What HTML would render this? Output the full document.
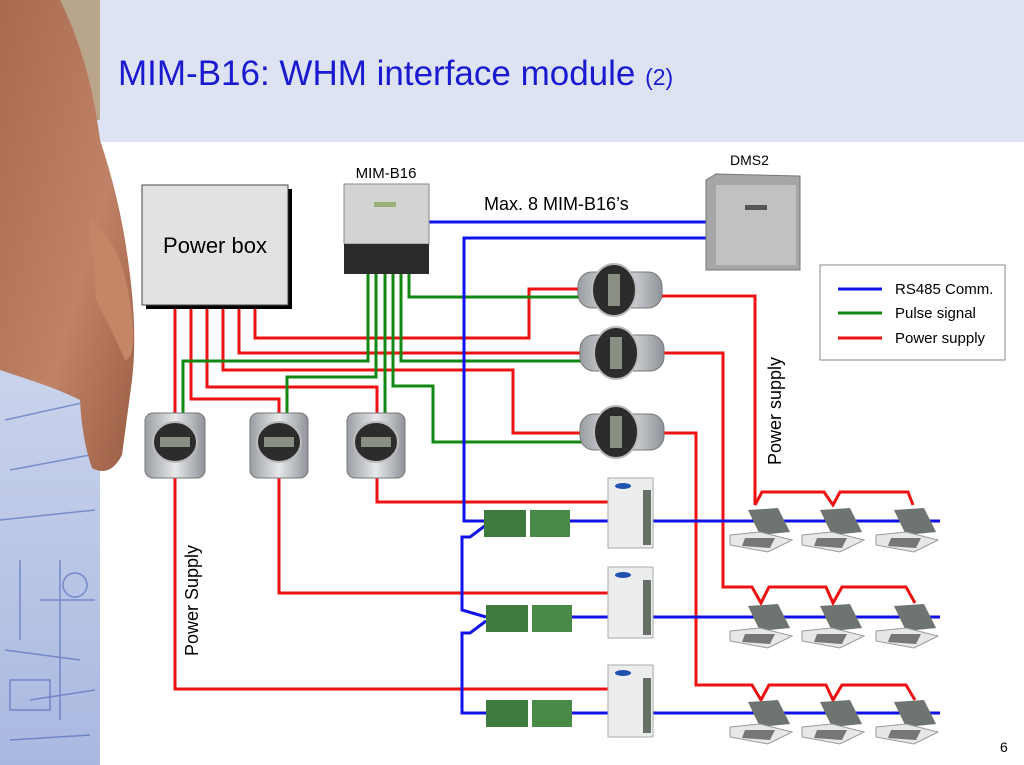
<!DOCTYPE html>
<html><head><meta charset="utf-8"><style>
body{margin:0;width:1024px;height:765px;overflow:hidden;background:#fff;font-family:"Liberation Sans",sans-serif}
svg{display:block}
</style></head><body>
<svg width="1024" height="765" viewBox="0 0 1024 765" xmlns="http://www.w3.org/2000/svg" font-family="Liberation Sans, sans-serif">
<defs>
<linearGradient id="met" x1="0" y1="0" x2="1" y2="0"><stop offset="0" stop-color="#9a9ea4"/><stop offset="0.5" stop-color="#e6e8ea"/><stop offset="1" stop-color="#8e9298"/></linearGradient>
<linearGradient id="bp" x1="0" y1="0" x2="0" y2="1"><stop offset="0" stop-color="#e8ecf6"/><stop offset="1" stop-color="#a9b8e0"/></linearGradient>
<linearGradient id="skin" x1="0" y1="0" x2="1" y2="1"><stop offset="0" stop-color="#a86a4e"/><stop offset="0.6" stop-color="#c08266"/><stop offset="1" stop-color="#9a5e44"/></linearGradient>
</defs>
<rect x="100" y="0" width="924" height="142" fill="#dde3f2"/>
<rect x="0" y="0" width="100" height="765" fill="url(#bp)"/>
<rect x="0" y="0" width="100" height="120" fill="#b9a58c"/>
<g stroke="#4a62b8" stroke-width="1.5" fill="none" opacity="0.6">
<path d="M5 420 L95 400 M10 470 L90 455 M0 520 L95 510 M20 560 L20 640 M40 600 L95 600 M5 650 L80 660 M30 700 L95 690 M60 560 L60 720 M10 740 L90 735"/>
<circle cx="75" cy="585" r="12"/><rect x="10" y="680" width="40" height="30"/>
</g>
<path d="M0 0 L60 0 Q90 60 100 140 Q120 200 128 260 Q138 330 132 380 L122 455 Q110 478 92 468 Q82 440 80 400 Q60 390 30 380 L0 370 Z" fill="url(#skin)"/>
<path d="M90 220 Q120 240 130 300 Q138 360 125 360 Q112 330 96 300 Z" fill="#c48666"/>
<text x="118" y="85" font-size="35" fill="#1a1ad0">MIM-B16: WHM interface module <tspan font-size="23">(2)</tspan></text>

<!-- wires -->
<g fill="none" stroke-width="3" stroke-linejoin="miter">
<g stroke="#ee1111">
<path d="M255 305 V338 H529 V289 H580"/>
<path d="M239 305 V353 H582"/>
<path d="M223 305 V370 H513 V433 H582"/>
<path d="M207 305 V387 H377 V414"/>
<path d="M191 305 V399 H279 V414"/>
<path d="M175 305 V414"/>
<path d="M175 476 V689 H608"/>
<path d="M279 476 V593 H608"/>
<path d="M377 476 V502 H608"/>
<path d="M662 296 H755 V505"/>
<path d="M662 353 H723 V587 H752 L761 603 L769 587 H826 L833 603 L842 587 H906 L915 603"/>
<path d="M662 433 H696 V685 H752 L761 700 L769 685 H826 L833 700 L842 685 H906 L915 700"/>
<path d="M755 505 L762 492 H824 L833 505 L840 492 H908 L913 505"/>
</g>
<g stroke="#118811">
<path d="M368 274 V361 H183 V414"/>
<path d="M376 274 V377 H287 V414"/>
<path d="M385 274 V414"/>
<path d="M393 274 V386 H433 V442 H582"/>
<path d="M401 274 V361 H582"/>
<path d="M409 274 V297 H580"/>
</g>
<g stroke="#1111ee">
<path d="M429 222 H708"/>
<path d="M708 238 H464 V521 H486"/>
<path d="M486 525 L470 537 H462 V610 L486 617"/>
<path d="M486 621 L470 633 H462 V713 H486"/>
<path d="M568 521 H610 M652 521 H940"/>
<path d="M568 617 H610 M652 617 H940"/>
<path d="M568 713 H610 M652 713 H940"/>
</g>
</g>

<!-- power box -->
<rect x="146" y="189" width="146" height="120" fill="#000"/>
<rect x="142" y="185" width="146" height="120" fill="#e2e2e2" stroke="#444"/>
<text x="215" y="253" font-size="22" text-anchor="middle">Power box</text>

<!-- MIM-B16 -->
<text x="386" y="178" font-size="15" text-anchor="middle">MIM-B16</text>
<rect x="344" y="184" width="85" height="60" fill="#d2d4d2" stroke="#888"/>
<rect x="374" y="202" width="22" height="5" fill="#9ab07a"/>
<rect x="344" y="244" width="85" height="30" fill="#2a2a2a"/>
<text x="484" y="210" font-size="18">Max. 8 MIM-B16’s</text>

<!-- DMS2 -->
<text x="730" y="165" font-size="14">DMS2</text>
<path d="M706 180 L716 174 L800 176 L800 270 L706 270 Z" fill="#a4a6a8" stroke="#777"/>
<rect x="716" y="185" width="80" height="80" fill="#bfc1c3"/>
<rect x="745" y="205" width="22" height="5" fill="#555"/>

<!-- meters right -->
<g>
<rect x="578" y="272" width="84" height="36" rx="14" fill="url(#met)" stroke="#777"/><ellipse cx="614" cy="290" rx="22" ry="26" fill="#2c2c2c" stroke="#bbb" stroke-width="2"/><rect x="608" y="274" width="12" height="32" fill="#8a8f84"/>
<rect x="580" y="335" width="84" height="36" rx="14" fill="url(#met)" stroke="#777"/><ellipse cx="616" cy="353" rx="22" ry="26" fill="#2c2c2c" stroke="#bbb" stroke-width="2"/><rect x="610" y="337" width="12" height="32" fill="#8a8f84"/>
<rect x="580" y="414" width="84" height="36" rx="14" fill="url(#met)" stroke="#777"/><ellipse cx="616" cy="432" rx="22" ry="26" fill="#2c2c2c" stroke="#bbb" stroke-width="2"/><rect x="610" y="416" width="12" height="32" fill="#8a8f84"/>
</g>
<!-- meters bottom -->
<g>
<rect x="145" y="413" width="60" height="65" rx="8" fill="url(#met)" stroke="#777"/><ellipse cx="175" cy="442" rx="22" ry="20" fill="#2c2c2c" stroke="#bbb" stroke-width="2"/><rect x="160" y="437" width="30" height="10" fill="#8a8f84"/>
<rect x="250" y="413" width="58" height="65" rx="8" fill="url(#met)" stroke="#777"/><ellipse cx="279" cy="442" rx="22" ry="20" fill="#2c2c2c" stroke="#bbb" stroke-width="2"/><rect x="264" y="437" width="30" height="10" fill="#8a8f84"/>
<rect x="347" y="413" width="58" height="65" rx="8" fill="url(#met)" stroke="#777"/><ellipse cx="376" cy="442" rx="22" ry="20" fill="#2c2c2c" stroke="#bbb" stroke-width="2"/><rect x="361" y="437" width="30" height="10" fill="#8a8f84"/>
</g>

<!-- PCBs and ODUs -->
<g>
<rect x="484" y="510" width="42" height="27" fill="#3f7a3f"/><rect x="530" y="510" width="40" height="27" fill="#4a8a48"/>
<rect x="486" y="605" width="42" height="27" fill="#3f7a3f"/><rect x="532" y="605" width="40" height="27" fill="#4a8a48"/>
<rect x="486" y="700" width="42" height="27" fill="#3f7a3f"/><rect x="532" y="700" width="40" height="27" fill="#4a8a48"/>
<rect x="608" y="478" width="45" height="70" fill="#eceeee" stroke="#aaa"/><rect x="643" y="490" width="8" height="55" fill="#667066"/><ellipse cx="623" cy="486" rx="8" ry="3" fill="#2050b0"/>
<rect x="608" y="567" width="45" height="71" fill="#eceeee" stroke="#aaa"/><rect x="643" y="580" width="8" height="55" fill="#667066"/><ellipse cx="623" cy="575" rx="8" ry="3" fill="#2050b0"/>
<rect x="608" y="665" width="45" height="72" fill="#eceeee" stroke="#aaa"/><rect x="643" y="678" width="8" height="55" fill="#667066"/><ellipse cx="623" cy="673" rx="8" ry="3" fill="#2050b0"/>
</g>

<!-- cassettes -->
<g id="cas">
<path d="M748 510 L778 508 L790 532 L760 535 Z" fill="#6e7570"/>
<path d="M730 535 L760 532 L792 540 L768 552 L730 545 Z" fill="#e6e8e8" stroke="#999"/>
<path d="M745 538 L775 538 L770 548 L742 546 Z" fill="#777"/>
</g>
<use href="#cas" x="72"/><use href="#cas" x="146"/>
<use href="#cas" y="96"/><use href="#cas" x="72" y="96"/><use href="#cas" x="146" y="96"/>
<use href="#cas" y="192"/><use href="#cas" x="72" y="192"/><use href="#cas" x="146" y="192"/>

<!-- legend -->
<rect x="820" y="265" width="185" height="95" fill="#fff" stroke="#888"/>
<line x1="838" y1="289" x2="882" y2="289" stroke="#1111ee" stroke-width="3"/>
<line x1="838" y1="313" x2="882" y2="313" stroke="#118811" stroke-width="3"/>
<line x1="838" y1="338" x2="882" y2="338" stroke="#ee1111" stroke-width="3"/>
<text x="895" y="294" font-size="15">RS485 Comm.</text>
<text x="895" y="318" font-size="15">Pulse signal</text>
<text x="895" y="343" font-size="15">Power supply</text>

<text transform="translate(781,465) rotate(-90)" font-size="18">Power supply</text>
<text transform="translate(198,656) rotate(-90)" font-size="18">Power Supply</text>
<text x="1000" y="752" font-size="14">6</text>
</svg>
</body></html>
